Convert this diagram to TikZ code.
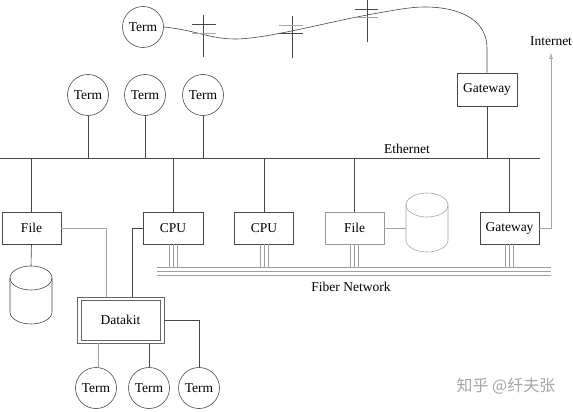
\documentclass[tikz,border=0pt]{standalone}
\usepackage{fontspec}
\setmainfont{Liberation Serif}
\newfontfamily\cjkwm{Noto Sans CJK SC}
\usetikzlibrary{arrows.meta}
\newcommand\mylbl{\fontsize{13.5}{16}\selectfont}
\tikzset{
  ln/.style={draw=black!72, line width=0.6pt},
  lg/.style={draw=black!35, line width=0.9pt},
  box/.style={rectangle, draw=black!72, line width=0.6pt, minimum width=59pt, minimum height=32pt, inner sep=0pt, font=\mylbl},
  gbox/.style={box, draw=black!40},
  term/.style={circle, draw=black!72, line width=0.6pt, minimum size=41pt, inner sep=0pt, font=\mylbl},
  lbl/.style={font=\mylbl, inner sep=0pt},
  fib/.style={draw=black!38, line width=0.7pt},
}
\begin{document}
\begin{tikzpicture}[x=1pt,y=-1pt]
\useasboundingbox[fill=white] (0,0) rectangle (573,412);

% top terminal and telephone wire
\node[term] (t0) at (143,27) {Term};
\node[box, minimum width=60pt, minimum height=33pt] (gw1) at (487,89.5) {Gateway};
\draw[ln] (t0.east) .. controls (195,30) and (210,39) .. (235,39)
  .. controls (265,39) and (320,24) .. (367,15)
  .. controls (395,10) and (410,7) .. (425,7)
  .. controls (460,7) and (487,20) .. (487,48) -- (gw1.north);
% poles
\draw[ln] (203,15) -- (203,57);
\draw[ln] (192,24) -- (216,24);
\draw[lg] (192,33) -- (216,33);
\draw[ln] (292,16) -- (292,58);
\draw[lg] (279,25) -- (303,25);
\draw[ln] (279,33) -- (303,33);
\draw[ln] (367,0) -- (367,42);
\draw[ln] (355,9) -- (378,9);
\draw[lg] (355,17) -- (378,17);

% ethernet
\coordinate (ethL) at (0,158);
\coordinate (ethR) at (540,158);
\draw[ln, line width=0.8pt] (ethL) -- (ethR);
\node[lbl] (ethlbl) at (407,149) {Ethernet};

\node[term] (t1) at (88,95) {Term};
\node[term] (t2) at (145,95) {Term};
\node[term] (t3) at (203,95) {Term};
\foreach \t in {t1,t2,t3} \draw[ln] (\t.south) -- (\t.south |- ethL);
\draw[ln] (gw1.south) -- (gw1.south |- ethL);

% lower row
\node[box] (f1) at (31.5,228) {File};
\node[box, minimum width=60pt] (cpu1) at (173,228) {CPU};
\node[box] (cpu2) at (264,228) {CPU};
\node[gbox] (f2) at (354.5,228) {File};
\node[box] (gw2) at (509.5,228) {Gateway};
\foreach \b in {f1,cpu1,cpu2,f2,gw2} \draw[ln] (\b.north) -- (\b.north |- ethL);

% disks
\coordinate (d1) at (31,266);
\draw[ln] (f1.south) -- (d1);
\draw[ln] (31,278) ellipse [x radius=21pt, y radius=12pt];
\draw[ln] (10,278) -- (10,312) arc[start angle=180, end angle=360, x radius=21pt, y radius=12pt] -- (52,278);
\coordinate (d2) at (406,228);
\draw[lg, line width=0.6pt] (f2.east) -- (d2);
\draw[lg, line width=0.6pt] (427,205) ellipse [x radius=21pt, y radius=12pt];
\draw[lg, line width=0.6pt] (406,205) -- (406,240) arc[start angle=180, end angle=360, x radius=21pt, y radius=12pt] -- (448,205);

% fiber network
\coordinate (fibL) at (157,267);
\coordinate (fibR) at (551,267);
\draw[fib, line width=1pt] (fibL) -- (fibR);
\draw[fib] ([yshift=-4pt]fibL) -- ([yshift=-4pt]fibR);
\draw[fib] ([yshift=-8pt]fibL) -- ([yshift=-8pt]fibR);
\node[lbl] (fiblbl) at (351,287) {Fiber Network};
\foreach \b in {cpu1,cpu2,f2,gw2} {
  \foreach \dx in {-4,0,4} \draw[fib, line width=0.5pt] ([xshift=\dx pt]\b.south) -- ([xshift=\dx pt]\b.south |- fibL);
}

% internet
\node[lbl] (inet) at (551,41) {Internet};
\coordinate (ia) at (551,52);
\draw[lg, -{Latex[length=7pt,width=4pt,open]}] (gw2.east) -| (ia);

% datakit
\node[rectangle, draw=black!60, line width=0.7pt, minimum width=87pt, minimum height=46pt, inner sep=0pt, font=\mylbl] (dk) at (120.5,320) {Datakit};
\draw[draw=black!60, line width=0.6pt] ([shift={(4.5pt,-3.5pt)}]dk.north west) rectangle ([shift={(-4.5pt,3.5pt)}]dk.south east);
\draw[lg, line width=0.7pt] (f1.east) -| ([xshift=-14pt]dk.north);
\draw[ln] (cpu1.west) -| ([xshift=12pt]dk.north);

\node[term] (t4) at (96,388) {Term};
\node[term] (t5) at (149,388) {Term};
\node[term] (t6) at (199,388) {Term};
\draw[lg, line width=0.7pt] ([xshift=2pt]t4.north) -- ([xshift=2pt]t4.north |- dk.south);
\draw[ln] (t5.north) -- (t5.north |- dk.south);
\draw[ln] (dk.east) -| (t6.north);

% watermark
\node[inner sep=0pt, text=black!35, font=\cjkwm\fontsize{16}{18}\selectfont] (wm) at (506,386) {知乎 @纤夫张};
\end{tikzpicture}
\end{document}
